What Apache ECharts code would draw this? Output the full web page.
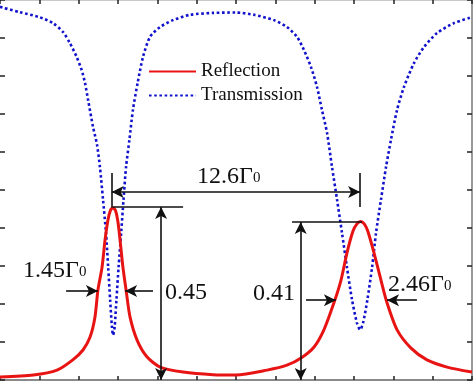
<!DOCTYPE html>
<html>
<head>
<meta charset="utf-8">
<script src="https://cdn.jsdelivr.net/npm/echarts@6/dist/echarts.min.js"></script>
<style>
html,body{margin:0;padding:0;background:#fff;}
#chart{width:474px;height:382px;}
</style>
</head>
<body>
<div id="chart"></div>
<script>
// Detuning in units of Gamma0
const transX = [-12,-11,-10,-9.3,-8.8,-8.45,-8.1,-7.85,-7.68,-7.52,-7.27,-7.07,-6.92,-6.76,-6.61,-6.50,-6.40,-6.31,-6.25,-6.17,-6.08,-5.97,-5.84,-5.72,-5.59,-5.42,-5.24,-5.00,-4.73,-4.37,-3.86,-3.20,-2.34,-1.17,0,0.92,1.93,2.59,3.10,3.46,3.81,4.12,4.37,4.63,4.88,5.14,5.39,5.64,5.90,6.15,6.31,6.46,6.68,6.92,7.12,7.37,7.63,7.88,8.19,8.54,9.05,9.56,10.22,11.08,12];
const transY = [0.982,0.968,0.955,0.939,0.916,0.887,0.850,0.816,0.782,0.737,0.666,0.620,0.561,0.474,0.387,0.297,0.211,0.140,0.118,0.140,0.211,0.297,0.387,0.474,0.561,0.632,0.711,0.782,0.850,0.903,0.929,0.947,0.961,0.966,0.967,0.961,0.947,0.929,0.903,0.868,0.824,0.771,0.711,0.650,0.561,0.474,0.387,0.297,0.211,0.150,0.132,0.150,0.211,0.297,0.387,0.474,0.561,0.632,0.711,0.771,0.834,0.876,0.913,0.939,0.955];
const reflX = [-12,-10.3,-9.1,-8.3,-7.78,-7.42,-7.17,-7.02,-6.81,-6.66,-6.51,-6.38,-6.25,-6.12,-6.0,-5.88,-5.75,-5.59,-5.39,-5.03,-4.53,-3.86,-2.69,-1.17,0,1.58,2.59,3.31,3.97,4.47,4.98,5.34,5.64,5.95,6.15,6.33,6.52,6.70,7.02,7.37,7.68,8.19,8.9,9.71,10.73,12];
const reflY = [0.008,0.013,0.026,0.053,0.079,0.113,0.166,0.237,0.297,0.368,0.421,0.447,0.453,0.445,0.415,0.361,0.297,0.237,0.166,0.105,0.061,0.034,0.021,0.014,0.013,0.026,0.039,0.058,0.087,0.132,0.203,0.263,0.334,0.392,0.411,0.417,0.411,0.392,0.334,0.263,0.203,0.132,0.084,0.053,0.034,0.021];

const seriesNames = ['Reflection','Transmission'];

// Annotation values (data units)
const peak1 = {x: -6.25, y: 0.45, label: '0.45', width: '1.45'};
const peak2 = {x: 6.33, y: 0.41, label: '0.41', width: '2.46'};
const split = '12.6';

const serif = '"Liberation Serif","Times New Roman",serif';
const ink = '#111';

const pairs = (xs, ys) => xs.map((x, i) => [x, ys[i]]);

function seg(a, b, s0, s1) {
  return [{coord: a, symbol: s0 || 'none'}, {coord: b, symbol: s1 || 'none'}];
}

const markLines = [
  seg([-6.32, 0.545], [-6.32, 0.453]),
  seg([6.31, 0.545], [6.31, 0.455]),
  seg([-6.32, 0.495], [6.31, 0.495], 'arrow', 'arrow'),
  seg([-6.25, 0.455], [-2.69, 0.455]),
  seg([-3.81, 0.455], [-3.81, 0.0], 'arrow', 'arrow'),
  seg([-8.64, 0.234], [-7.02, 0.234], 'none', 'arrow'),
  seg([-4.22, 0.234], [-5.64, 0.234], 'none', 'arrow'),
  seg([2.85, 0.416], [6.41, 0.416]),
  seg([3.29, 0.416], [3.29, 0.0], 'arrow', 'arrow'),
  seg([3.56, 0.21], [5.08, 0.21], 'none', 'arrow'),
  seg([9.2, 0.21], [7.68, 0.21], 'none', 'arrow')
];

function txt(coord, str) {
  return {coord: coord, value: str};
}
const markTexts = [
  txt([-1.98, 0.535], '{n|' + split + 'Γ}{s|0}'),
  txt([-10.83, 0.287], '{n|' + peak1.width + 'Γ}{s|0}'),
  txt([-3.61, 0.231], '{n|' + peak1.label + '}'),
  txt([0.86, 0.226], '{n|' + peak2.label + '}'),
  txt([7.73, 0.252], '{n|' + peak2.width + 'Γ}{s|0}')
];

const chart = echarts.init(document.getElementById('chart'), null, {renderer: 'canvas'});

const tickStyle = {color: '#222', width: 1.5};

chart.setOption({
  animation: false,
  backgroundColor: '#fff',
  grid: {left: 0, right: 2, top: 0, bottom: 2, containLabel: false},
  legend: {
    data: seriesNames,
    orient: 'vertical',
    left: 148,
    top: 62,
    padding: 0,
    itemWidth: 47,
    itemHeight: 14,
    itemGap: 5,
    itemStyle: {opacity: 0, borderWidth: 0},
    textStyle: {fontFamily: serif, fontSize: 19, color: ink},
    selectedMode: false
  },
  xAxis: [
    {type: 'value', position: 'bottom', min: -12, max: 12, interval: 2,
     axisLine: {show: true, onZero: false, lineStyle: {color: '#8a8a8a', width: 2}},
     axisTick: {show: true, inside: true, length: 4, lineStyle: tickStyle},
     axisLabel: {show: false}, splitLine: {show: false}},
    {type: 'value', position: 'top', min: -12, max: 12, interval: 2,
     axisLine: {show: true, onZero: false, lineStyle: {color: '#c8c8c8', width: 2}},
     axisTick: {show: true, inside: true, length: 4, lineStyle: tickStyle},
     axisLabel: {show: false}, splitLine: {show: false}}
  ],
  yAxis: [
    {type: 'value', position: 'left', min: 0, max: 1, interval: 0.1,
     axisLine: {show: false, onZero: false},
     axisTick: {show: true, inside: true, length: 5, lineStyle: tickStyle},
     axisLabel: {show: false}, splitLine: {show: false}},
    {type: 'value', position: 'right', min: 0, max: 1, interval: 0.1,
     axisLine: {show: true, onZero: false, lineStyle: {color: '#999', width: 2}},
     axisTick: {show: true, inside: true, length: 5, lineStyle: tickStyle},
     axisLabel: {show: false}, splitLine: {show: false}}
  ],
  series: [
    {
      name: 'Transmission', type: 'line', xAxisIndex: 0, yAxisIndex: 0,
      data: pairs(transX, transY), showSymbol: false, symbol: 'none',
      smooth: 0.25, z: 2,
      lineStyle: {color: '#1212cc', width: 2.6, type: [2.6, 2.6]},
      itemStyle: {color: '#1212cc'},
      emphasis: {disabled: true}
    },
    {
      name: 'Reflection', type: 'line', xAxisIndex: 0, yAxisIndex: 0,
      data: pairs(reflX, reflY), showSymbol: false, symbol: 'none',
      smooth: 0.25, z: 3,
      lineStyle: {color: '#e81414', width: 3},
      itemStyle: {color: '#e81414'},
      emphasis: {disabled: true},
      markLine: {
        silent: true, animation: false,
        symbolSize: [9, 12],
        label: {show: false},
        lineStyle: {color: ink, width: 1.6, type: 'solid'},
        emphasis: {disabled: true},
        data: markLines
      },
      markPoint: {
        silent: true, animation: false,
        symbol: 'rect', symbolSize: 1,
        itemStyle: {color: 'rgba(0,0,0,0)'},
        label: {
          show: true, position: 'inside', align: 'left', verticalAlign: 'middle',
          formatter: p => p.value,
          color: ink,
          rich: {
            n: {fontFamily: serif, fontSize: 24, color: ink},
            s: {fontFamily: serif, fontSize: 15, color: ink, verticalAlign: 'bottom', padding: [0, 0, 3, 0]}
          }
        },
        emphasis: {disabled: true},
        data: markTexts
      }
    }
  ]
});
</script>
</body>
</html>
